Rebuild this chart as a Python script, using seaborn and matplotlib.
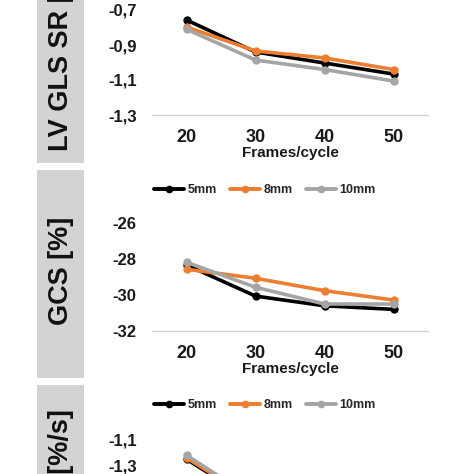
import numpy as np
import pandas as pd
import matplotlib
matplotlib.use("Agg")
import matplotlib.pyplot as plt
import seaborn as sns
from matplotlib.lines import Line2D
from matplotlib.patches import Rectangle
from matplotlib.ticker import FuncFormatter

# data
frames = [20, 30, 40, 50]
sizes = ['5mm', '8mm', '10mm']
colors = ['#000000', '#ED7D31', '#A5A5A5']

gls_sr_5 = [-0.757, -0.940, -1.003, -1.066]
gls_sr_8 = [-0.797, -0.934, -0.974, -1.040]
gls_sr_10 = [-0.810, -0.986, -1.040, -1.106]

gcs_5 = [-28.33, -30.06, -30.60, -30.80]
gcs_8 = [-28.57, -29.07, -29.76, -30.28]
gcs_10 = [-28.18, -29.57, -30.50, -30.50]

gcs_sr_5 = [-1.25, -1.57, -1.66, -1.74]
gcs_sr_8 = [-1.24, -1.56, -1.64, -1.72]
gcs_sr_10 = [-1.22, -1.55, -1.63, -1.70]

sns.set_style('white')
plt.rcParams['font.family'] = ['Liberation Sans', 'DejaVu Sans']
plt.rcParams['font.weight'] = 'bold'

W = 474.0


def long_df(a, b, c):
    rows = []
    for name, vals in zip(sizes, [a, b, c]):
        for f, v in zip(frames, vals):
            rows.append({'frames': f, 'value': v, 'size': name})
    return pd.DataFrame(rows)


def fpos(x0, y0, x1, y1):
    # pixel box -> figure rect
    return [x0 / W, 1 - y1 / W, (x1 - x0) / W, (y1 - y0) / W]


fig = plt.figure(figsize=(4.74, 4.74), dpi=100)

# grey side boxes with panel labels
for (y0, y1) in [(-40, 163), (170, 378), (385, 520)]:
    r = fpos(37, y0, 84, y1)
    fig.add_artist(Rectangle((r[0], r[1]), r[2], r[3], transform=fig.transFigure,
                             facecolor='#d3d3d3', edgecolor='none', zorder=0))

fig.text(61 / W, 1 - 151 / W, 'LV GLS SR [%/s]', rotation=90, ha='center', va='bottom',
         fontsize=19.5, fontweight='bold', color='#111111')
fig.text(61 / W, 1 - 271 / W, 'GCS [%]', rotation=90, ha='center', va='center',
         fontsize=19.5, fontweight='bold', color='#111111')
fig.text(61 / W, 1 - 409 / W, 'GCS SR [%/s]', rotation=90, ha='center', va='top',
         fontsize=19.5, fontweight='bold', color='#111111')

# lower panel runs off the bottom of the picture: only its visible ticks are labelled
panels = [
    (long_df(gls_sr_5, gls_sr_8, gls_sr_10), (10, 115), (-1.3, -0.7), [-1.3, -1.1, -0.9, -0.7], True, True),
    (long_df(gcs_5, gcs_8, gcs_10), (223, 331), (-32, -26), [-32, -30, -28, -26], False, True),
    (long_df(gcs_sr_5, gcs_sr_8, gcs_sr_10), (439, 547), (-1.9, -1.1), [-1.3, -1.1], True, False),
]

for df, (ytop, ybot), ylim, yticks, comma, show_x in panels:
    ax = fig.add_axes(fpos(152, ytop, 428, ybot))
    sns.lineplot(data=df, x='frames', y='value', hue='size', hue_order=sizes,
                 palette=colors, marker='o', markersize=6, markeredgewidth=0,
                 linewidth=2.6, legend=False, ax=ax, clip_on=False)
    ax.set_xlim(15, 55)
    ax.set_ylim(*ylim)
    ax.set_xticks(frames)
    ax.set_yticks(yticks)
    if comma:
        ax.yaxis.set_major_formatter(FuncFormatter(lambda v, p: ('%.1f' % v).replace('.', ',')))
    else:
        ax.yaxis.set_major_formatter(FuncFormatter(lambda v, p: '%d' % round(v)))
    for s in ['top', 'right', 'left']:
        ax.spines[s].set_visible(False)
    ax.spines['bottom'].set_color('#d0d0d0')
    ax.spines['bottom'].set_linewidth(1.0)
    ax.tick_params(axis='both', length=0, colors='#1a1a1a')
    ax.tick_params(axis='y', pad=11, labelsize=12)
    ax.tick_params(axis='x', pad=10, labelsize=13)
    for lab in ax.get_xticklabels() + ax.get_yticklabels():
        lab.set_fontweight('bold')
    ax.set_ylabel('')
    if show_x:
        ax.set_xlabel('Frames/cycle', fontsize=11, fontweight='bold', labelpad=0, color='#1a1a1a')
    else:
        ax.set_xticklabels([])
        ax.set_xlabel('')
    ax.patch.set_alpha(0)

# legends above the lower two panels
handles = [Line2D([0], [0], color=c, lw=2.8, marker='o', markersize=4.5) for c in colors]
for ly in [190, 405]:
    fig.legend(handles, sizes, loc='center', bbox_to_anchor=(265 / W, 1 - ly / W),
               ncol=3, frameon=False, handlelength=2.4, handletextpad=0.25,
               columnspacing=1.1, prop={'weight': 'bold', 'size': 9})

fig.savefig('out.png', dpi=100)
